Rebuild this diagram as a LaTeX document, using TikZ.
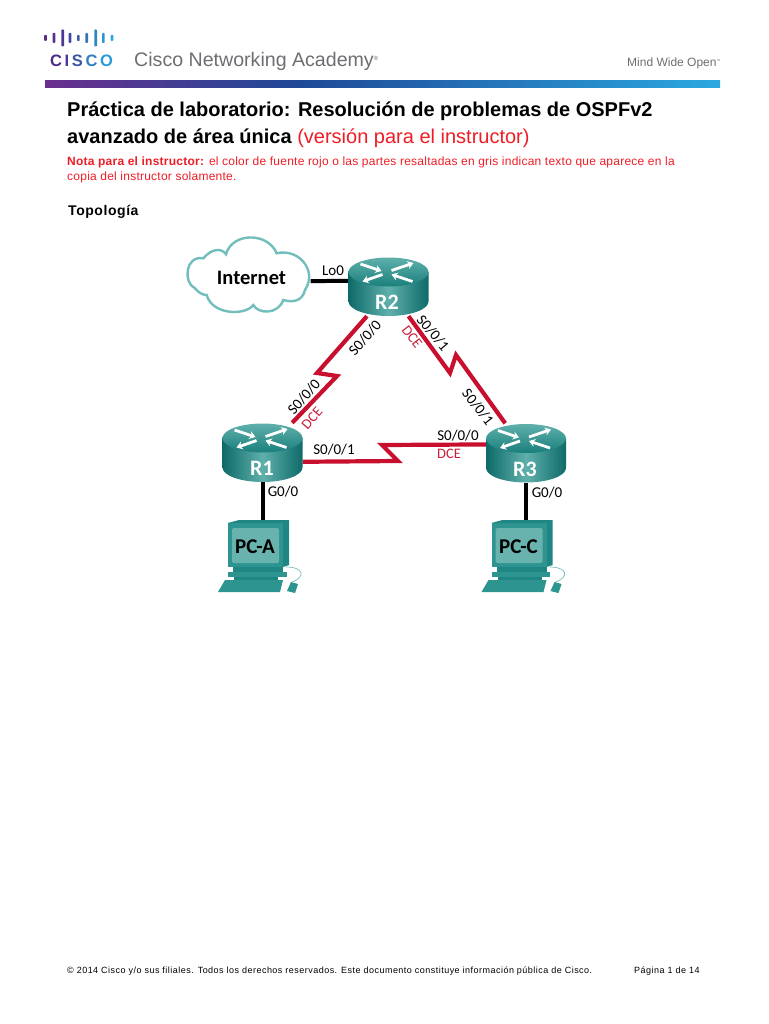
\documentclass[tikz,border=0pt]{standalone}
\usepackage{fontspec}
\setmainfont{Liberation Sans}
\newfontfamily\calfont{Carlito}
\usetikzlibrary{arrows.meta}
\definecolor{serial}{HTML}{C8102E}
\definecolor{dcered}{HTML}{C8203C}
\definecolor{notered}{HTML}{EE1C25}
\definecolor{cloudline}{HTML}{72BEBC}
\definecolor{tealdark}{HTML}{0E6A69}
\definecolor{tealmid}{HTML}{1A7F7C}
\definecolor{teallight}{HTML}{5FB0AB}
\definecolor{pcbody}{HTML}{2E9490}
\definecolor{pcdark}{HTML}{1F8783}
\definecolor{pcscreen}{HTML}{68B3AD}
\definecolor{graytext}{HTML}{6D6E71}
\definecolor{barpurple}{HTML}{6A2F8F}
\definecolor{barblue}{HTML}{1F4896}
\definecolor{barcyan}{HTML}{2BA8E0}
\pgfdeclarelayer{conn}
\pgfdeclarelayer{shape}
\pgfsetlayers{conn,shape,main}
\tikzset{
  fs/.style={font=\fontsize{#1}{#1}\selectfont},
  devbox/.style={inner sep=0pt,minimum width=80pt,minimum height=59pt},
  pcbox/.style={inner sep=0pt,minimum width=46pt,minimum height=52pt},
  serialline/.style={draw=serial,line width=4.2pt,line join=miter},
  lanline/.style={draw=black,line width=4pt},
  portlbl/.style={inner sep=0pt,font=\calfont\fontsize{15}{15}\selectfont},
  dcelbl/.style={inner sep=0pt,text=dcered,font=\calfont\fontsize{14.5}{15}\selectfont},
  routerlbl/.style={inner sep=0pt,text=white,font=\calfont\bfseries\fontsize{22}{22}\selectfont},
  pclbl/.style={inner sep=0pt,font=\calfont\bfseries\fontsize{21}{21}\selectfont},
  headtext/.style={inner sep=0pt,anchor=base west},
  warrow/.style={draw=white,line width=2.8pt,-{Stealth[length=6pt,width=8pt]}},
}
\newcommand{\routershape}[2]{%
  \begin{scope}[shift={(#1,#2)}]
    \shade[left color=tealdark,right color=tealdark,middle color=teallight]
      (-40,-14.5) -- (-40,15) arc[start angle=180,end angle=0,x radius=40,y radius=14.5] -- (40,-14.5) -- cycle;
    \shade[top color=teallight,bottom color=tealmid]
      (0,-14.5) ellipse[x radius=40,y radius=14.5];
    \draw[warrow] (-28,-22.5) -- (-7,-15.5);
    \draw[warrow] (24,-5) -- (3,-12);
    \draw[warrow] (3,-16) -- (25,-23.5);
    \draw[warrow] (-6,-12) -- (-26,-5);
  \end{scope}}
\newcommand{\pcshape}[2]{%
  \begin{scope}[shift={(#1,#2)}]
    \fill[pcdark] (55,2) -- (-0.3,2) -- (11,-1) -- (61,-1) -- (61,44) -- (55,46) -- cycle;
    \fill[pcbody] (0,2) rectangle (55,46);
    \fill[pcscreen,rounded corners=1.5pt] (4,7) rectangle (51,42);
    \fill[pcdark] (5,45.5) rectangle (55.3,51);
    \fill[pcbody] (0,50.5) -- (58.5,50.5) -- (58.5,56) -- (0,56) -- cycle;
    \fill[pcdark] (6,56) rectangle (50,59);
    \fill[pcbody] (-3,59) -- (55,59) -- (52,71) -- (-10,71) -- cycle;
    \fill[pcbody] (59,70) -- (63,61) -- (70,63) -- (67,72) -- cycle;
    \draw[cloudline,line width=.7pt] (64,61) .. controls (78,56) and (76,46) .. (58,46);
  \end{scope}}
\begin{document}
\begin{tikzpicture}[x=1pt,y=-1pt]
\useasboundingbox (0,0) rectangle (768,1024);
% logo
\foreach \x/\h/\c in {45.5/6/5B2C86,54.0/10/55308E,62.7/17/4A3A96,70.0/10/3F4A9E,78.3/6/3A5CA8,86.7/10/3572B6,95.7/17/2F86C4,103.3/10/2C96D0,112/6/2AA4DA}{
  \definecolor{barc}{HTML}{\c}
  \fill[barc,rounded corners=.8pt] (\x-1.3,38-\h/2) rectangle (\x+1.3,38+\h/2);
}
\node[headtext,font=\bfseries\fontsize{16.5}{16.5}\selectfont] (cis) at (50,67) {\textcolor[HTML]{4B2C86}{C}\kern2.6pt\textcolor[HTML]{47389A}{I}\kern2.6pt\textcolor[HTML]{3C55A5}{S}\kern2.6pt\textcolor[HTML]{2F7DBE}{C}\kern2.6pt\textcolor[HTML]{2B9AD6}{O}};
\node[headtext,fs=19.6,text=graytext] (cna) at (134,67) {Cisco Networking Academy\raisebox{6pt}{\fontsize{6}{6}\selectfont ®}};
\node[headtext,fs=12,text=graytext] (mwo) at (627,67) {Mind Wide Open\raisebox{4pt}{\fontsize{4}{4}\selectfont ™}};
\shade[left color=barpurple,right color=barblue] (45,81) rectangle (295,88);
\shade[left color=barblue,right color=barcyan] (295,81) rectangle (720,88);
% text
\node[headtext,font=\bfseries\fontsize{20}{20}\selectfont] (t1) at (67,117) {Práctica de laboratorio: Resolución de problemas de OSPFv2};
\node[headtext,font=\bfseries\fontsize{20}{20}\selectfont] (t2) at (67,144) {avanzado de área única \textcolor{notered}{\mdseries (versión para el instructor)}};
\node[headtext,text=notered,font=\fontsize{12}{12}\selectfont\addfontfeatures{LetterSpace=2}] (n1) at (67,166) {\textbf{Nota para el instructor:} el color de fuente rojo o las partes resaltadas en gris indican texto que aparece en la};
\node[headtext,text=notered,font=\fontsize{12}{12}\selectfont\addfontfeatures{LetterSpace=2}] (n2) at (67,181) {copia del instructor solamente.};
\node[headtext,font=\bfseries\fontsize{14}{14}\selectfont\addfontfeatures{LetterSpace=4}] (top) at (68,215) {Topología};
% device anchors
\node[devbox] (r1) at (262.5,452.5) {};
\node[devbox] (r2) at (388.5,286.5) {};
\node[devbox] (r3) at (526,453) {};
\node[inner sep=0pt,minimum width=118pt,minimum height=68pt,font=\calfont\bfseries\fontsize{20.5}{20.5}\selectfont] (inet) at (251.5,278) {Internet};
\node[pcbox,pclbl] (pca) at (255,547) {PC-A};
\node[pcbox,pclbl] (pcc) at (518.5,547) {PC-C};
\node[routerlbl] (r1l) at (262,468) {R1};
\node[routerlbl] (r2l) at (387,302) {R2};
\node[routerlbl] (r3l) at (525,469) {R3};
% shapes
\begin{pgfonlayer}{shape}
  \routershape{262.5}{452.5}
  \routershape{388.5}{286.5}
  \routershape{526}{453}
  \pcshape{228}{521}
  \pcshape{491.5}{521}
  \draw[cloudline,line width=2.4pt,fill=white] (195,288.3)
    .. controls (183,283) and (185,255) .. (203.3,258.3)
    .. controls (212,248) and (222,248) .. (226,254.3)
    .. controls (232,232) and (268,232) .. (276.7,253.3)
    .. controls (298,248) and (318,270) .. (305,290)
    .. controls (302,303) and (290,302) .. (283.3,300)
    .. controls (278,315) and (258,314) .. (253.3,305)
    .. controls (245,316) and (212,315) .. (206.7,295)
    .. controls (202,295) and (198,292) .. (195,288.3) -- cycle;
\end{pgfonlayer}
% connectors
\coordinate (z1a) at (317,373);
\coordinate (z1b) at (337,376);
\coordinate (z2a) at (450,373);
\coordinate (z2b) at (456,355);
\coordinate (z3a) at (398,461);
\coordinate (z3b) at (382,445);
\begin{pgfonlayer}{conn}
  \draw[lanline] (inet.-3) -- (r2.172);
  \draw[lanline] (r1.south) -- (r1.south |- pca.north);
  \draw[lanline] (r3.south) -- (r3.south |- pcc.north);
  \draw[serialline] (r2.-126) -- (z1a) -- (z1b) -- (r1.45);
  \draw[serialline] (r2.-56) -- (z2a) -- (z2b) -- (r3.125);
  \draw[serialline] (r1.-13) -- (z3a) -- (z3b) -- (r3.168);
\end{pgfonlayer}
% port labels
\node[portlbl] (lo0) at (333,271) {Lo0};
\node[portlbl,rotate=49] (p1) at (365,338) {S0/0/0};
\node[portlbl,rotate=49] (p2) at (304,397) {S0/0/0};
\node[dcelbl,rotate=49] (d1) at (312,418) {DCE};
\node[portlbl,rotate=-50] (p3) at (433,333) {S0/0/1};
\node[dcelbl,rotate=-52] (d2) at (412,337) {DCE};
\node[portlbl,rotate=-52] (p4) at (478,407) {S0/0/1};
\node[portlbl] (p5) at (334,450) {S0/0/1};
\node[portlbl] (p6) at (458,436) {S0/0/0};
\node[dcelbl] (d3) at (449,454) {DCE};
\node[portlbl] (g1) at (283,492) {G0/0};
\node[portlbl] (g2) at (547,493) {G0/0};
% footer
\node[headtext,font=\fontsize{9}{9}\selectfont\addfontfeatures{LetterSpace=5.3}] (f1) at (67,973) {© 2014 Cisco y/o sus filiales. Todos los derechos reservados. Este documento constituye información pública de Cisco.};
\node[headtext,font=\fontsize{9}{9}\selectfont\addfontfeatures{LetterSpace=5.3}] (f2) at (634,973) {Página 1 de 14};
\end{tikzpicture}
\end{document}
